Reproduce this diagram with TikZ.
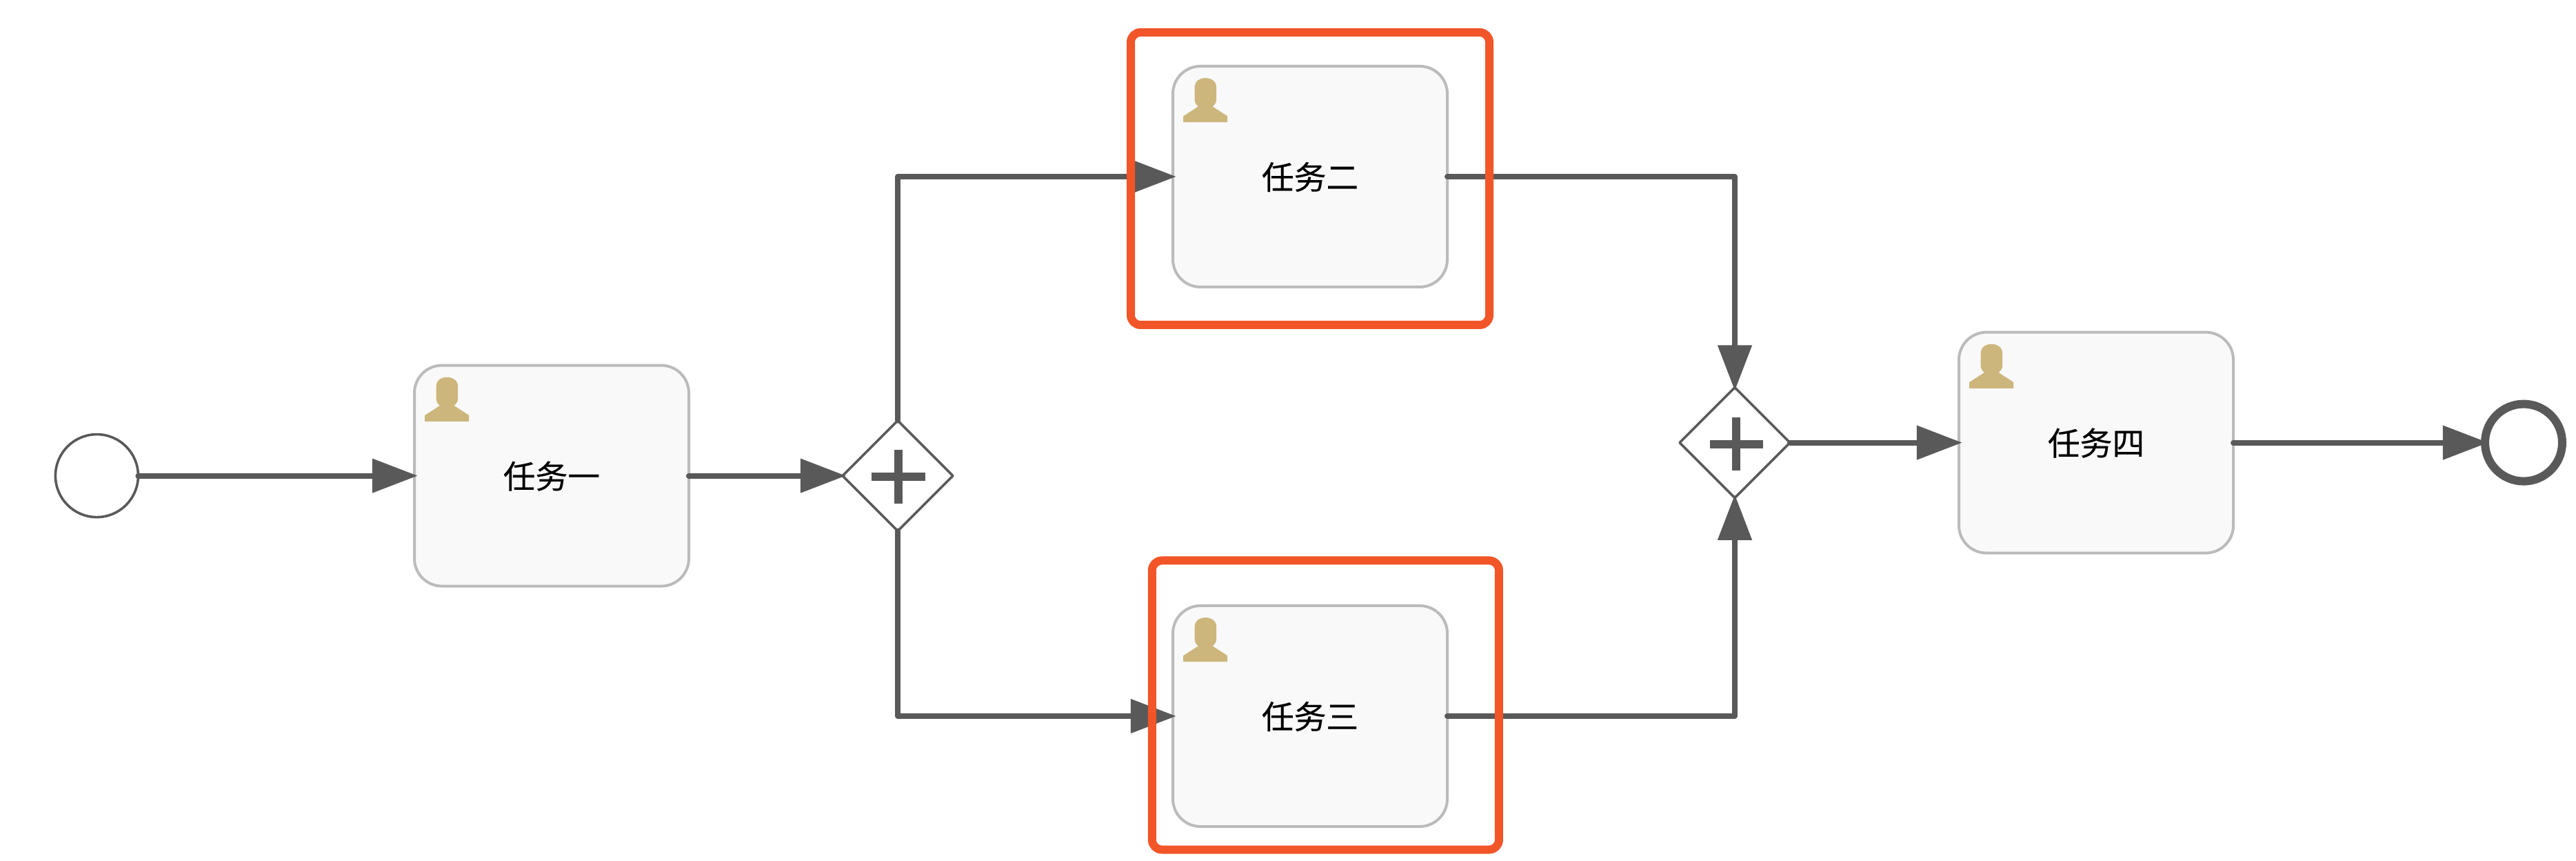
\documentclass[tikz,border=0pt]{standalone}
\usepackage{fontspec}
\usetikzlibrary{arrows.meta,shapes.geometric}
\setmainfont{Noto Sans CJK SC}[RawFeature={embolden=0.3}]
\definecolor{flowgray}{HTML}{595959}
\definecolor{taskline}{HTML}{BBBBBB}
\definecolor{taskfill}{HTML}{F9F9F9}
\definecolor{usertan}{HTML}{CDB67C}
\definecolor{markred}{HTML}{F15528}
\tikzset{
	tasknode/.style={draw=taskline, fill=taskfill, line width=1pt, rounded corners=10pt, minimum width=99.5pt, minimum height=80pt, inner sep=0pt, outer sep=0pt, text height=9.2pt, text depth=0pt, font=\fontsize{11.7pt}{14pt}\selectfont},
	gatenode/.style={draw=flowgray, fill=white, diamond, aspect=1, line width=0.9pt, minimum width=40pt, minimum height=40pt, inner sep=0pt, outer sep=0pt},
	startnode/.style={draw=flowgray, circle, line width=0.9pt, minimum size=30pt, inner sep=0pt, outer sep=0pt},
	endnode/.style={draw=flowgray, circle, line width=3pt, minimum size=28pt, inner sep=0pt, outer sep=0pt},
	marknode/.style={draw=markred, line width=3pt, rounded corners=3.5pt, inner sep=0pt, outer sep=0pt},
	flowline/.style={draw=flowgray, line width=2pt, ->, shorten >=-1.2pt},
	usericon/.pic={
		\fill[usertan] (0,16)--(0,13.8)--(5.4,10.3) .. controls (4.5,9.5) and (4.1,8.8) .. (4.1,7.5)--(4.1,3.5) .. controls (4.1,1) and (6,0) .. (8,0) .. controls (10,0) and (12,1) .. (12,3.5)--(12,7.5) .. controls (12,8.8) and (11.5,9.5) .. (10.6,10.3)--(16,13.8)--(16,16)--cycle;
	},
	plussign/.pic={
		\fill[flowgray] (-9.7,-1.5) rectangle (9.7,1.5);
		\fill[flowgray] (-1.5,-9.7) rectangle (1.5,9.7);
	}
}
\begin{document}
\begin{tikzpicture}[x=1pt, y=-1pt, line join=round, line cap=round, >={Triangle[length=16.5pt,width=12pt]}]
	\useasboundingbox (0,0) rectangle (934,312);
	\node[startnode] (start) at (35.1,172.4) {};
	\node[tasknode] (task1) at (200,172.4) {任务一};
	\node[tasknode] (task2) at (475,64) {任务二};
	\node[tasknode] (task3) at (475,259.5) {任务三};
	\node[tasknode] (task4) at (760,160.4) {任务四};
	\node[gatenode] (gate1) at (325.5,172.4) {};
	\node[gatenode] (gate2) at (629,160.4) {};
	\node[endnode] (finish) at (915,160.4) {};
	\path (gate1) ++(0.3,0.4) pic {plussign};
	\path (gate2) ++(0.6,0.5) pic {plussign};
	\path (task1.north west) ++(3.8,4.3) pic {usericon};
	\path (task2.north west) ++(3.8,4.3) pic {usericon};
	\path (task3.north west) ++(3.8,4.3) pic {usericon};
	\path (task4.north west) ++(3.8,4.3) pic {usericon};
	\draw[flowline] (start) -- (task1);
	\draw[flowline] (task1) -- (gate1);
	\draw[flowline] (gate1) |- (task2);
	\draw[flowline] (gate1) |- (task3);
	\draw[flowline] (task2) -| (gate2);
	\draw[flowline] (task3) -| (gate2);
	\draw[flowline] (gate2) -- (task4);
	\draw[flowline] (task4) -- (finish);
	\node[marknode, minimum width=130pt, minimum height=106pt] (mark2) at (475,64.75) {};
	\node[marknode, minimum width=125.75pt, minimum height=104.75pt] (mark3) at (480.6,255.5) {};
\end{tikzpicture}
\end{document}
